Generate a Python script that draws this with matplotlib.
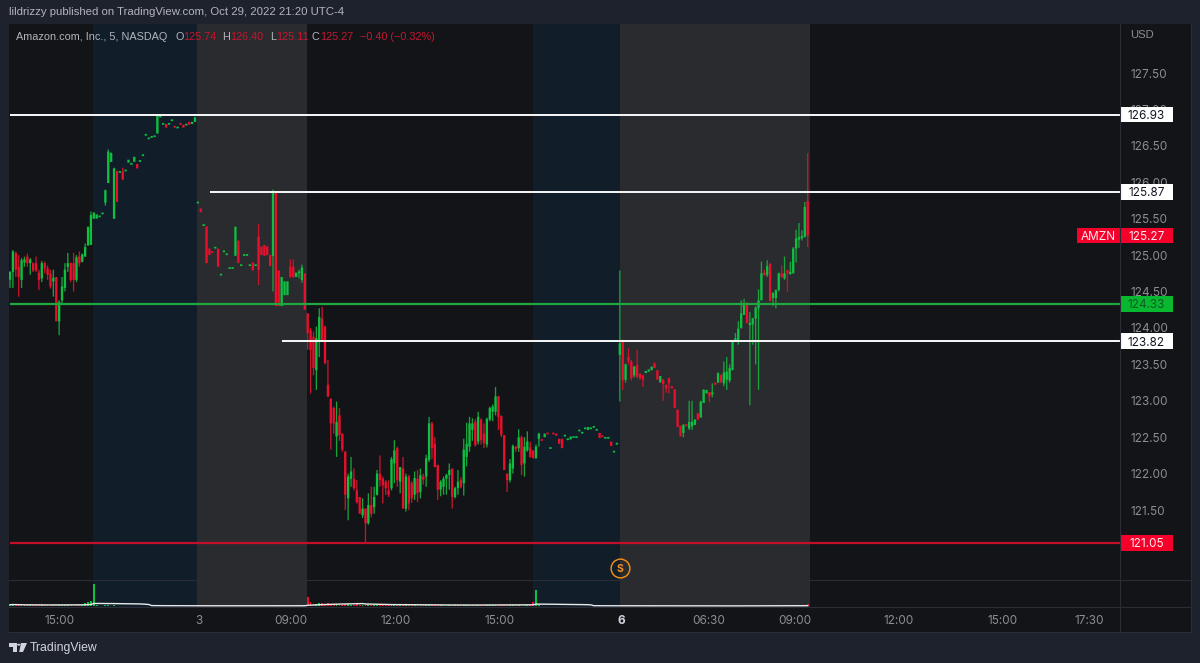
import math
import matplotlib
matplotlib.use("Agg")
import matplotlib.pyplot as plt
import pandas as pd
from matplotlib.patches import Rectangle, Polygon, Circle

plt.rcParams['font.family'] = ['Inter', 'DejaVu Sans']
HEAD_FONT = ['Liberation Sans', 'DejaVu Sans']

# ---------- data: 5 minute candles, AMZN ----------
opens = [
 124.66,124.77,125.03,124.84,124.66,124.90,124.98,124.89,124.89,124.89,124.76,124.68,124.89,124.82,124.75,124.64,124.70,124.09,124.38,124.55,124.84,124.89,124.89,124.66,124.98,124.91,124.98,125.13,125.14,
 125.50,125.50,125.52,125.56,125.72,125.99,126.28,125.50,126.15,126.13,126.15,126.15,126.27,126.24,126.28,126.25,126.28,126.36,126.64,126.59,126.61,126.62,126.67,126.89,126.79,126.80,126.79,126.84,126.77,126.74,126.81,126.79,126.78,126.83,126.80,126.83,
 125.71,125.64,125.40,125.39,125.09,125.05,125.09,125.09,124.72,125.04,125.00,124.81,124.81,124.99,125.20,124.85,124.99,124.99,124.85,124.90,124.85,125.25,125.12,125.14,125.12,125.00,124.99,125.88,124.79,124.30,124.45,124.45,124.84,124.84,124.70,124.75,124.66,
 124.75,124.20,123.97,123.88,123.42,123.81,124.13,124.02,123.22,123.03,122.90,122.51,122.80,122.55,122.30,121.66,121.93,121.93,121.77,121.68,121.43,121.52,121.32,121.57,121.54,121.71,122.00,121.93,121.89,121.77,121.80,122.14,122.35,121.89,122.07,121.52,
 121.96,121.87,121.71,121.93,121.75,121.96,121.96,122.19,122.69,122.41,122.12,121.78,121.82,121.93,121.98,122.07,121.68,121.80,121.91,121.87,122.23,122.37,122.60,122.71,122.44,122.74,122.55,122.40,122.74,122.85,122.85,123.06,122.79,122.53,122.00,121.91,122.07,122.37,122.35,122.50,122.14,122.32,122.36,122.32,122.21,
 122.48,122.47,122.50,122.56,122.34,122.56,122.55,122.48,122.48,122.51,122.46,122.47,122.49,122.49,122.58,122.55,122.61,122.60,122.61,122.63,122.59,122.56,122.52,122.48,122.48,122.44,122.29,122.40,
 123.63,123.83,123.29,123.60,123.54,123.35,123.49,123.37,123.35,123.38,123.40,123.42,123.51,123.42,123.25,123.29,123.22,123.31,123.20,123.16,122.88,122.66,122.56,122.68,122.62,122.65,122.67,122.83,122.77,122.97,123.10,123.12,123.09,123.25,123.25,123.36,123.24,123.29,123.28,123.42,123.81,123.81,124.00,124.18,124.34,124.04,124.05,124.13,124.27,124.38,124.76,124.73,124.88,124.41,124.41,124.52,124.75,124.68,124.79,124.74,124.75,125.09,125.21,125.23,125.25,125.74,
]
highs = [
 124.78,125.07,125.05,125.00,124.96,124.98,125.02,124.96,124.90,124.98,124.80,124.92,124.91,124.86,124.80,124.80,124.70,124.38,124.70,124.89,125.03,124.90,125.03,125.00,125.05,125.02,125.16,125.39,125.60,
 125.59,125.56,125.54,125.58,125.90,126.45,126.41,126.20,126.16,126.15,126.20,126.17,126.31,126.26,126.35,126.25,126.30,126.38,126.66,126.61,126.63,126.64,126.93,126.91,126.81,126.80,126.81,126.86,126.77,126.76,126.81,126.79,126.80,126.83,126.83,126.90,
 125.73,125.64,125.42,125.40,125.09,125.05,125.11,125.09,124.74,125.06,125.02,124.83,124.83,125.39,125.20,124.87,125.01,125.01,124.87,124.90,124.87,125.43,125.12,125.14,125.12,125.00,125.90,125.88,124.79,124.70,124.64,124.64,124.94,124.94,124.76,124.80,124.87,
 124.75,124.20,124.00,123.95,124.02,124.27,124.29,124.03,123.56,123.03,122.92,122.99,122.90,122.55,122.31,122.00,122.23,122.07,121.91,121.68,121.66,121.52,121.73,121.82,121.82,122.05,122.25,121.96,121.91,121.91,122.23,122.46,122.37,122.09,122.23,122.00,
 121.98,121.90,122.03,122.05,122.07,122.00,122.26,122.78,122.71,122.50,122.12,121.91,121.96,122.00,122.14,122.07,121.82,122.05,121.95,122.48,122.70,122.78,122.76,122.75,122.85,122.76,122.69,122.77,122.92,122.95,123.19,123.07,122.80,122.53,122.00,122.20,122.40,122.38,122.61,122.52,122.50,122.58,122.44,122.32,122.40,
 122.56,122.47,122.55,122.56,122.36,122.56,122.55,122.48,122.48,122.53,122.48,122.51,122.51,122.51,122.60,122.57,122.63,122.64,122.63,122.65,122.61,122.56,122.52,122.50,122.50,122.44,122.31,122.42,
 124.79,123.84,123.51,123.72,123.56,123.48,123.70,123.38,123.35,123.41,123.43,123.47,123.53,123.42,123.34,123.30,123.22,123.32,123.20,123.16,122.88,122.66,122.68,122.68,123.00,123.00,122.75,122.83,123.00,123.16,123.15,123.12,123.24,123.25,123.39,123.36,123.54,123.60,123.50,123.81,123.93,124.09,124.38,124.40,124.36,124.22,124.14,124.30,124.53,124.91,124.80,124.93,124.89,124.49,124.53,124.76,124.86,124.98,124.80,124.91,125.11,125.35,125.44,125.34,125.73,126.40,
]
lows = [
 124.55,124.55,124.70,124.43,124.55,124.84,124.84,124.73,124.77,124.77,124.52,124.63,124.75,124.66,124.54,124.43,124.09,123.90,124.33,124.50,124.77,124.63,124.50,124.63,124.84,124.90,124.98,125.13,125.14,
 125.50,125.50,125.52,125.56,125.68,125.99,126.28,125.50,125.73,126.13,126.03,126.15,126.27,126.24,126.28,126.19,126.28,126.36,126.64,126.59,126.61,126.62,126.67,126.89,126.79,126.75,126.79,126.84,126.75,126.74,126.79,126.75,126.78,126.79,126.80,126.83,
 125.71,125.59,125.40,124.89,125.00,125.03,125.09,124.84,124.72,125.04,125.00,124.81,124.81,124.99,124.89,124.85,124.99,124.99,124.85,124.79,124.85,124.59,125.00,124.99,125.00,124.85,124.50,124.30,124.30,124.30,124.45,124.45,124.69,124.69,124.70,124.68,124.62,
 124.25,123.70,123.10,123.35,123.15,123.60,123.81,123.50,123.05,122.33,122.55,122.23,122.45,122.30,121.50,121.36,121.82,121.77,121.59,121.45,121.39,121.05,121.30,121.40,121.45,121.70,121.82,121.59,121.71,121.68,121.77,121.87,121.82,121.73,121.52,121.48,
 121.50,121.60,121.64,121.61,121.66,121.85,121.82,122.16,122.20,122.09,121.64,121.69,121.71,121.71,121.78,121.52,121.66,121.71,121.80,121.70,122.10,122.30,122.45,122.37,122.40,122.40,122.35,122.36,122.72,122.72,122.80,122.60,122.50,122.05,121.75,121.88,122.00,122.30,122.30,121.98,121.96,122.30,122.22,122.21,122.21,
 122.37,122.45,122.50,122.54,122.34,122.54,122.52,122.41,122.35,122.51,122.46,122.47,122.49,122.49,122.58,122.55,122.61,122.60,122.61,122.63,122.59,122.49,122.50,122.48,122.48,122.38,122.29,122.40,
 122.99,123.15,123.25,123.50,123.28,123.32,123.31,123.29,123.19,123.38,123.40,123.42,123.45,123.29,123.25,123.00,123.11,123.10,123.17,122.90,122.64,122.51,122.50,122.65,122.60,122.60,122.67,122.74,122.77,122.97,123.10,122.98,123.05,123.22,123.25,123.25,123.20,123.15,123.25,123.42,123.81,123.77,123.99,124.18,124.06,122.94,123.77,123.50,123.15,124.38,124.72,124.70,124.36,124.30,124.27,124.50,124.68,124.66,124.50,124.73,124.75,124.90,125.10,125.20,125.24,125.11,
]
closes = [
 124.77,125.05,124.80,124.70,124.93,124.94,124.89,124.94,124.79,124.79,124.66,124.89,124.82,124.73,124.57,124.69,124.09,124.36,124.57,124.80,124.89,124.66,124.66,124.97,124.89,125.01,125.11,125.39,125.55,
 125.58,125.56,125.54,125.58,125.89,126.42,126.40,126.19,125.73,126.15,126.04,126.17,126.31,126.26,126.35,126.19,126.30,126.38,126.66,126.61,126.63,126.64,126.92,126.91,126.81,126.75,126.81,126.86,126.75,126.76,126.79,126.75,126.80,126.79,126.83,126.89,
 125.73,125.59,125.42,124.89,125.00,125.03,125.11,124.84,124.74,125.06,125.02,124.83,124.83,125.39,124.89,124.87,125.01,125.01,124.87,124.79,124.87,124.80,125.00,124.99,125.00,124.85,125.88,124.30,124.30,124.70,124.64,124.64,124.70,124.70,124.76,124.77,124.83,
 124.25,123.93,123.70,123.45,123.86,124.15,123.81,123.52,123.06,122.69,122.69,122.71,122.53,122.33,121.71,121.96,122.03,121.80,121.61,121.45,121.52,121.32,121.57,121.45,121.68,122.00,121.91,121.84,121.80,121.71,122.20,122.32,121.91,122.09,121.52,121.96,
 121.59,121.66,121.94,121.73,121.98,121.92,122.21,122.69,122.35,122.09,121.78,121.89,121.93,121.98,122.05,121.68,121.80,121.89,121.82,122.33,122.41,122.69,122.69,122.39,122.78,122.46,122.42,122.75,122.90,122.92,123.06,122.78,122.53,122.05,121.91,122.14,122.38,122.34,122.50,122.12,122.37,122.44,122.23,122.21,122.37,
 122.55,122.45,122.55,122.54,122.36,122.54,122.52,122.41,122.35,122.53,122.48,122.51,122.51,122.51,122.60,122.57,122.63,122.64,122.63,122.65,122.61,122.49,122.50,122.50,122.50,122.38,122.31,122.42,
 123.79,123.28,123.50,123.54,123.31,123.47,123.33,123.31,123.29,123.41,123.43,123.47,123.45,123.29,123.34,123.23,123.17,123.24,123.17,122.90,122.64,122.51,122.67,122.65,122.71,122.71,122.74,122.74,122.99,123.15,123.15,123.06,123.11,123.22,123.38,123.25,123.39,123.40,123.45,123.81,123.86,123.99,124.20,124.34,124.07,124.07,124.13,124.28,124.38,124.75,124.72,124.85,124.37,124.48,124.52,124.75,124.70,124.75,124.75,124.77,125.09,125.23,125.25,125.26,125.66,125.27,
]
volumes = [
 1.3,1.6,1.2,1.0,1.1,0.9,1.0,1.2,0.8,0.9,1.1,1.0,0.8,1.0,1.1,1.2,1.3,1.4,1.2,1.0,1.1,1.0,1.2,1.1,0.9,1.0,3.0,4.0,5.0,
 22.0,1.0,0.5,0.4,0.6,0.8,0.5,0.7,0.5,0.3,0.4,0.3,0.3,0.3,0.3,0.3,0.2,0.2,0.3,0.2,0.2,0.2,0.5,0.3,0.2,0.2,0.2,0.2,0.2,0.2,0.2,0.2,0.2,0.2,0.2,0.3,
 0.2,0.2,0.2,0.3,0.2,0.2,0.2,0.2,0.2,0.2,0.2,0.2,0.2,0.3,0.3,0.2,0.2,0.2,0.2,0.2,0.2,0.3,0.2,0.2,0.2,0.2,0.5,0.6,0.4,0.3,0.3,0.2,0.2,0.2,0.2,0.2,0.2,
 0.4,9.0,4.0,2.5,2.0,3.0,3.0,2.5,2.6,2.4,2.0,1.8,1.6,1.5,1.7,1.8,1.4,1.3,1.6,1.4,1.3,1.8,1.6,1.3,1.4,1.2,1.3,1.1,1.0,1.0,1.2,1.3,1.1,1.0,1.3,1.2,
 1.1,1.0,1.0,0.9,1.0,0.8,1.0,1.5,1.2,1.0,1.1,0.8,0.8,0.7,0.8,1.1,0.8,0.8,0.7,1.2,1.0,1.1,0.9,1.0,1.1,1.0,0.9,1.0,1.0,0.9,1.1,1.2,1.0,1.1,1.0,0.9,1.0,0.8,0.9,1.0,0.9,1.2,1.5,4.0,15.7,
 1.0,0.5,0.4,0.3,0.3,0.3,0.3,0.4,0.4,0.2,0.2,0.3,0.2,0.2,0.2,0.2,0.2,0.3,0.2,0.2,0.2,0.3,0.2,0.2,0.2,0.3,0.2,0.2,
 0.3,0.3,0.2,0.2,0.2,0.2,0.2,0.2,0.2,0.1,0.1,0.1,0.2,0.2,0.1,0.2,0.1,0.1,0.1,0.2,0.2,0.2,0.1,0.1,0.1,0.1,0.1,0.1,0.2,0.2,0.1,0.1,0.1,0.1,0.1,0.1,0.2,0.1,0.1,0.3,0.1,0.2,0.2,0.2,0.2,0.3,0.2,0.2,0.3,0.3,0.2,0.2,0.3,0.2,0.2,0.2,0.2,0.2,0.2,0.2,0.3,0.3,0.2,0.2,0.4,2.0,
]
assert len(opens) == len(highs) == len(lows) == len(closes) == len(volumes), (len(opens), len(highs), len(lows), len(closes), len(volumes))

level_prices = [126.93, 125.87, 124.33, 123.82, 121.05]
level_starts = [0, 69.2, 0, 94.1, 0]
level_colors = ['#F2F3F4', '#F2F3F4', '#1FA83F', '#F2F3F4', '#C2102A']
label_fills = ['#FFFFFF', '#FFFFFF', '#08B82F', '#FFFFFF', '#F5002A']
label_inks = ['#131722', '#131722', '#0C5C26', '#131722', '#FFE9EC']
last_price = 125.27

price_ticks = [121.0, 121.5, 122.0, 122.5, 123.0, 123.5, 124.0, 124.5, 125.0, 125.5, 126.0, 126.5, 127.0, 127.5]
time_ticks = [17.3, 65.4, 97.2, 133.6, 169.5, 211.4, 241.9, 271.6, 307.6, 343.6, 373.4]
time_labels = ['15:00', '3', '09:00', '12:00', '15:00', '6', '06:30', '09:00', '12:00', '15:00', '17:30']
post_sessions = [(28.7, 64.7), (181.0, 211.0)]
pre_sessions = [(64.7, 102.8), (211.0, 276.8)]

# ---------- colours ----------
OUTER = '#1E222D'
PANE = '#131417'
POST = '#111E29'
PRE = '#2A2B2F'
GRID = '#2A2D35'
UP = '#0EC042'
DOWN = '#EA0F2C'
UP_W = '#17A23C'
DOWN_W = '#C6142C'
AXTXT = '#8A8D94'

W, H = 1200, 663
fig = plt.figure(figsize=(W / 100, H / 100), dpi=100, facecolor=OUTER)

def fx(x):
    return x / W

def fy(y):
    return 1 - y / H

def panel(x0, y0, x1, y1):
    return [fx(x0), fy(y1), fx(x1) - fx(x0), fy(y0) - fy(y1)]

fig.add_artist(Rectangle((fx(9), fy(632)), fx(1191) - fx(9), fy(24) - fy(632), transform=fig.transFigure, fc=PANE, ec='none', zorder=-5))

ax_vol = fig.add_axes(panel(9, 580, 1119.5, 607))
ax = fig.add_axes(panel(9, 24, 1119.5, 580), sharex=ax_vol)
ax.set_zorder(3)
ax_vol.set_zorder(2)

xlim = (-0.35, 383.9)
ax.set_xlim(*xlim)
ax.set_ylim(120.54, 128.173)
ax_vol.set_ylim(-1.0, 26.0)

for a in (ax, ax_vol):
    a.set_facecolor(PANE)
    for s in a.spines.values():
        s.set_visible(False)
    for (x0, x1) in post_sessions:
        a.axvspan(x0, x1, color=POST, lw=0, zorder=0)
    for (x0, x1) in pre_sessions:
        a.axvspan(x0, x1, color=PRE, lw=0, zorder=0)

# candles
min_body = 0.024
for i, (o, h, l, c) in enumerate(zip(opens, highs, lows, closes)):
    up = c >= o
    if h - l > abs(c - o) + 0.005:
        ax.vlines(i, l, h, color=UP_W if up else DOWN_W, lw=0.95, zorder=2, snap=False)
    body = max(abs(c - o), min_body)
    bars = ax.bar(i, body, bottom=min(o, c), width=0.8, color=UP if up else DOWN, lw=0, zorder=3)
    for b in bars:
        b.set_snap(False)

# volume
bar_colors = [UP if c >= o else DOWN for o, c in zip(opens, closes)]
ax_vol.bar(range(len(volumes)), volumes, width=0.62, color=bar_colors, lw=0, zorder=2)
ma = pd.Series(volumes).rolling(20, min_periods=1).mean()
ax_vol.plot(range(len(volumes)), ma, color='#E8E9EB', lw=1.0, zorder=3)

# horizontal levels
for p, s, col in zip(level_prices, level_starts, level_colors):
    lw = 1.45 if col == '#F2F3F4' else 1.6
    ax.plot([s, xlim[1]], [p, p], color=col, lw=lw, zorder=4, solid_capstyle='butt')

# axes ticks
ax.yaxis.tick_right()
ax.set_yticks(price_ticks)
ax.set_yticklabels([f'{v:.2f}' for v in price_ticks], fontsize=8.5, color=AXTXT)
ax.tick_params(axis='y', length=0, pad=8)
ax.tick_params(axis='x', length=0, labelbottom=False)
ax_vol.set_yticks([])
ax_vol.set_xticks(time_ticks)
ax_vol.set_xticklabels(time_labels, fontsize=8.5, color=AXTXT)
ax_vol.tick_params(axis='x', length=0, pad=5.5)
for lab, t in zip(ax_vol.get_xticklabels(), time_labels):
    if t == '6':
        lab.set_fontweight('bold')
        lab.set_color('#D1D4DC')

# price labels on the axis
trans = ax.get_yaxis_transform()
axw = 1110.5
h_lbl = (15.5 / 72.83) / 1
def price_box(p, x0, x1, fill, text, ink):
    ax.add_patch(Rectangle(((x0 - 9) / axw, p - h_lbl / 2), (x1 - x0) / axw, h_lbl, transform=trans, fc=fill, ec='none', clip_on=False, zorder=5))
    ax.text(((x0 + x1) / 2 - 9) / axw, p, text, transform=trans, color=ink, fontsize=8.5, ha='center', va='center_baseline', clip_on=False, zorder=6)

for p, fill, ink in zip(level_prices, label_fills, label_inks):
    price_box(p, 1120, 1173, fill, f'{p:.2f}', ink)
price_box(last_price, 1120, 1173, '#F5002A', f'{last_price:.2f}', '#FFE9EC')
price_box(last_price, 1077, 1119.5, '#F5002A', 'AMZN', '#FFE9EC')

# session break marker
ax.plot([211.1], [120.70], marker='o', ms=13.5, mfc='none', mec='#F7931A', mew=1.0, ls='none', zorder=5)
ax.text(211.1, 120.70, 'S', color='#F7931A', fontsize=7.5, fontweight='bold', ha='center', va='center_baseline', zorder=6)

# pane separators
for (x0, y0, x1, y1) in [(9, 580, 1191, 580), (9, 607, 1191, 607), (9, 632, 1191, 632), (1120, 24, 1120, 632), (1191, 24, 1191, 632)]:
    fig.add_artist(plt.Line2D([fx(x0), fx(x1)], [fy(y0), fy(y1)], transform=fig.transFigure, color=GRID, lw=0.8, zorder=10))

# header text
TXT = '#B2B5BE'
RED = '#C7162E'
fig.text(fx(9), fy(12), 'lildrizzy published on TradingView.com, Oct 29, 2022 21:20 UTC-4', color=TXT, fontsize=8.2, family=HEAD_FONT, va='center', ha='left')
legend_bits = [
    (16, 'Amazon.com, Inc., 5, NASDAQ', TXT), (175, 'O', TXT), (183, '125.74', RED),
    (222, 'H', TXT), (230, '126.40', RED), (270, 'L', TXT), (276, '125.11', RED),
    (312, 'C', TXT), (320, '125.27', RED), (360, '\u22120.40 (\u22120.32%)', RED),
]
for x, s, c in legend_bits:
    fig.text(fx(x), fy(37), s, color=c, fontsize=7.8, family=HEAD_FONT, va='center', ha='left', zorder=12)
fig.text(fx(1130), fy(35), 'USD', color=AXTXT, fontsize=8.1, family=HEAD_FONT, va='center', ha='left', zorder=12)

# footer
LOGO = '#D1D4DC'
def poly(points):
    fig.add_artist(Polygon([(fx(a), fy(b)) for a, b in points], closed=True, transform=fig.transFigure, fc=LOGO, ec='none'))
poly([(9, 643), (16.5, 643), (16.5, 652), (13, 652), (13, 646.5), (9, 646.5)])
poly([(21, 643), (27, 643), (23, 652), (19.2, 652)])
fig.add_artist(Circle((fx(18.8), fy(644.7)), radius=1.7 / W, transform=fig.transFigure, fc=LOGO, ec='none'))
fig.text(fx(30), fy(647.5), 'TradingView', color=LOGO, fontsize=8.8, family=HEAD_FONT, va='center', ha='left')

fig.savefig('out.png', dpi=100, facecolor=OUTER)
